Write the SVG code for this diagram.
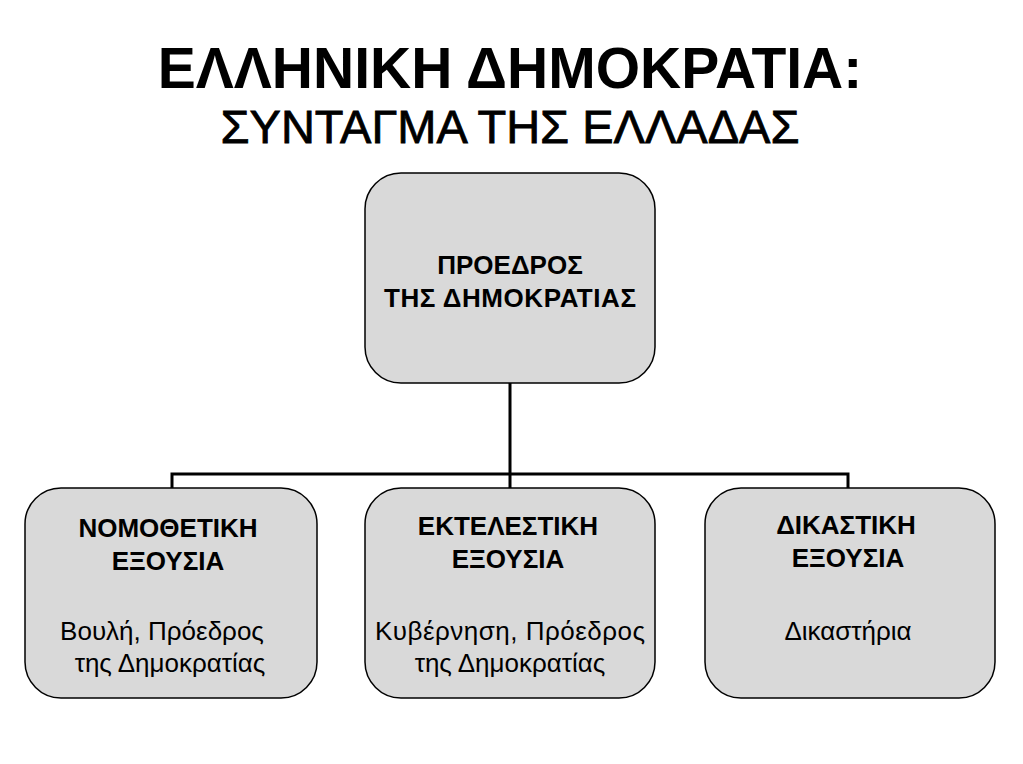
<svg xmlns="http://www.w3.org/2000/svg" width="1023" height="764" viewBox="0 0 1023 764">
<style>
.box{fill:#d9d9d9;stroke:#000;stroke-width:1.5}
.t{font-family:"Liberation Sans",Arial,sans-serif;text-anchor:middle;fill:#000}
.b{font-weight:bold;font-size:26px}
.r{font-size:26px}
.c{fill:none;stroke:#000;stroke-width:3}
</style>
<rect width="1023" height="764" fill="#fff"/>
<text class="t" x="510" y="88" font-size="57" font-weight="bold">ΕΛΛΗΝΙΚΗ ΔΗΜΟΚΡΑΤΙΑ:</text>
<text class="t" x="510" y="143" font-size="47" stroke="#000" stroke-width="0.8">ΣΥΝΤΑΓΜΑ ΤΗΣ ΕΛΛΑΔΑΣ</text>
<g id="connectors">
<path class="c" d="M510 383V474M172 488V474H848V488M510 474V488"/>
</g>
<g id="president">
<rect class="box" x="365" y="173" width="290" height="210" rx="36"/>
<text class="t b" x="510" y="274">ΠΡΟΕΔΡΟΣ</text>
<text class="t b" x="510" y="307" textLength="252">ΤΗΣ ΔΗΜΟΚΡΑΤΙΑΣ</text>
</g>
<g id="legislative">
<rect class="box" x="25" y="488" width="292" height="210" rx="36"/>
<text class="t b" x="168" y="537">ΝΟΜΟΘΕΤΙΚΗ</text>
<text class="t b" x="168" y="570">ΕΞΟΥΣΙΑ</text>
<text class="t r" x="162" y="640">Βουλή, Πρόεδρος</text>
<text class="t r" x="170" y="672">της Δημοκρατίας</text>
</g>
<g id="executive">
<rect class="box" x="365" y="488" width="290" height="210" rx="36"/>
<text class="t b" x="508" y="535">ΕΚΤΕΛΕΣΤΙΚΗ</text>
<text class="t b" x="508" y="568">ΕΞΟΥΣΙΑ</text>
<text class="t r" x="510" y="640" textLength="270">Κυβέρνηση, Πρόεδρος</text>
<text class="t r" x="510" y="672">της Δημοκρατίας</text>
</g>
<g id="judicial">
<rect class="box" x="705" y="488" width="290" height="210" rx="36"/>
<text class="t b" x="846" y="534">ΔΙΚΑΣΤΙΚΗ</text>
<text class="t b" x="848" y="567">ΕΞΟΥΣΙΑ</text>
<text class="t r" x="848" y="640">Δικαστήρια</text>
</g>
</svg>
